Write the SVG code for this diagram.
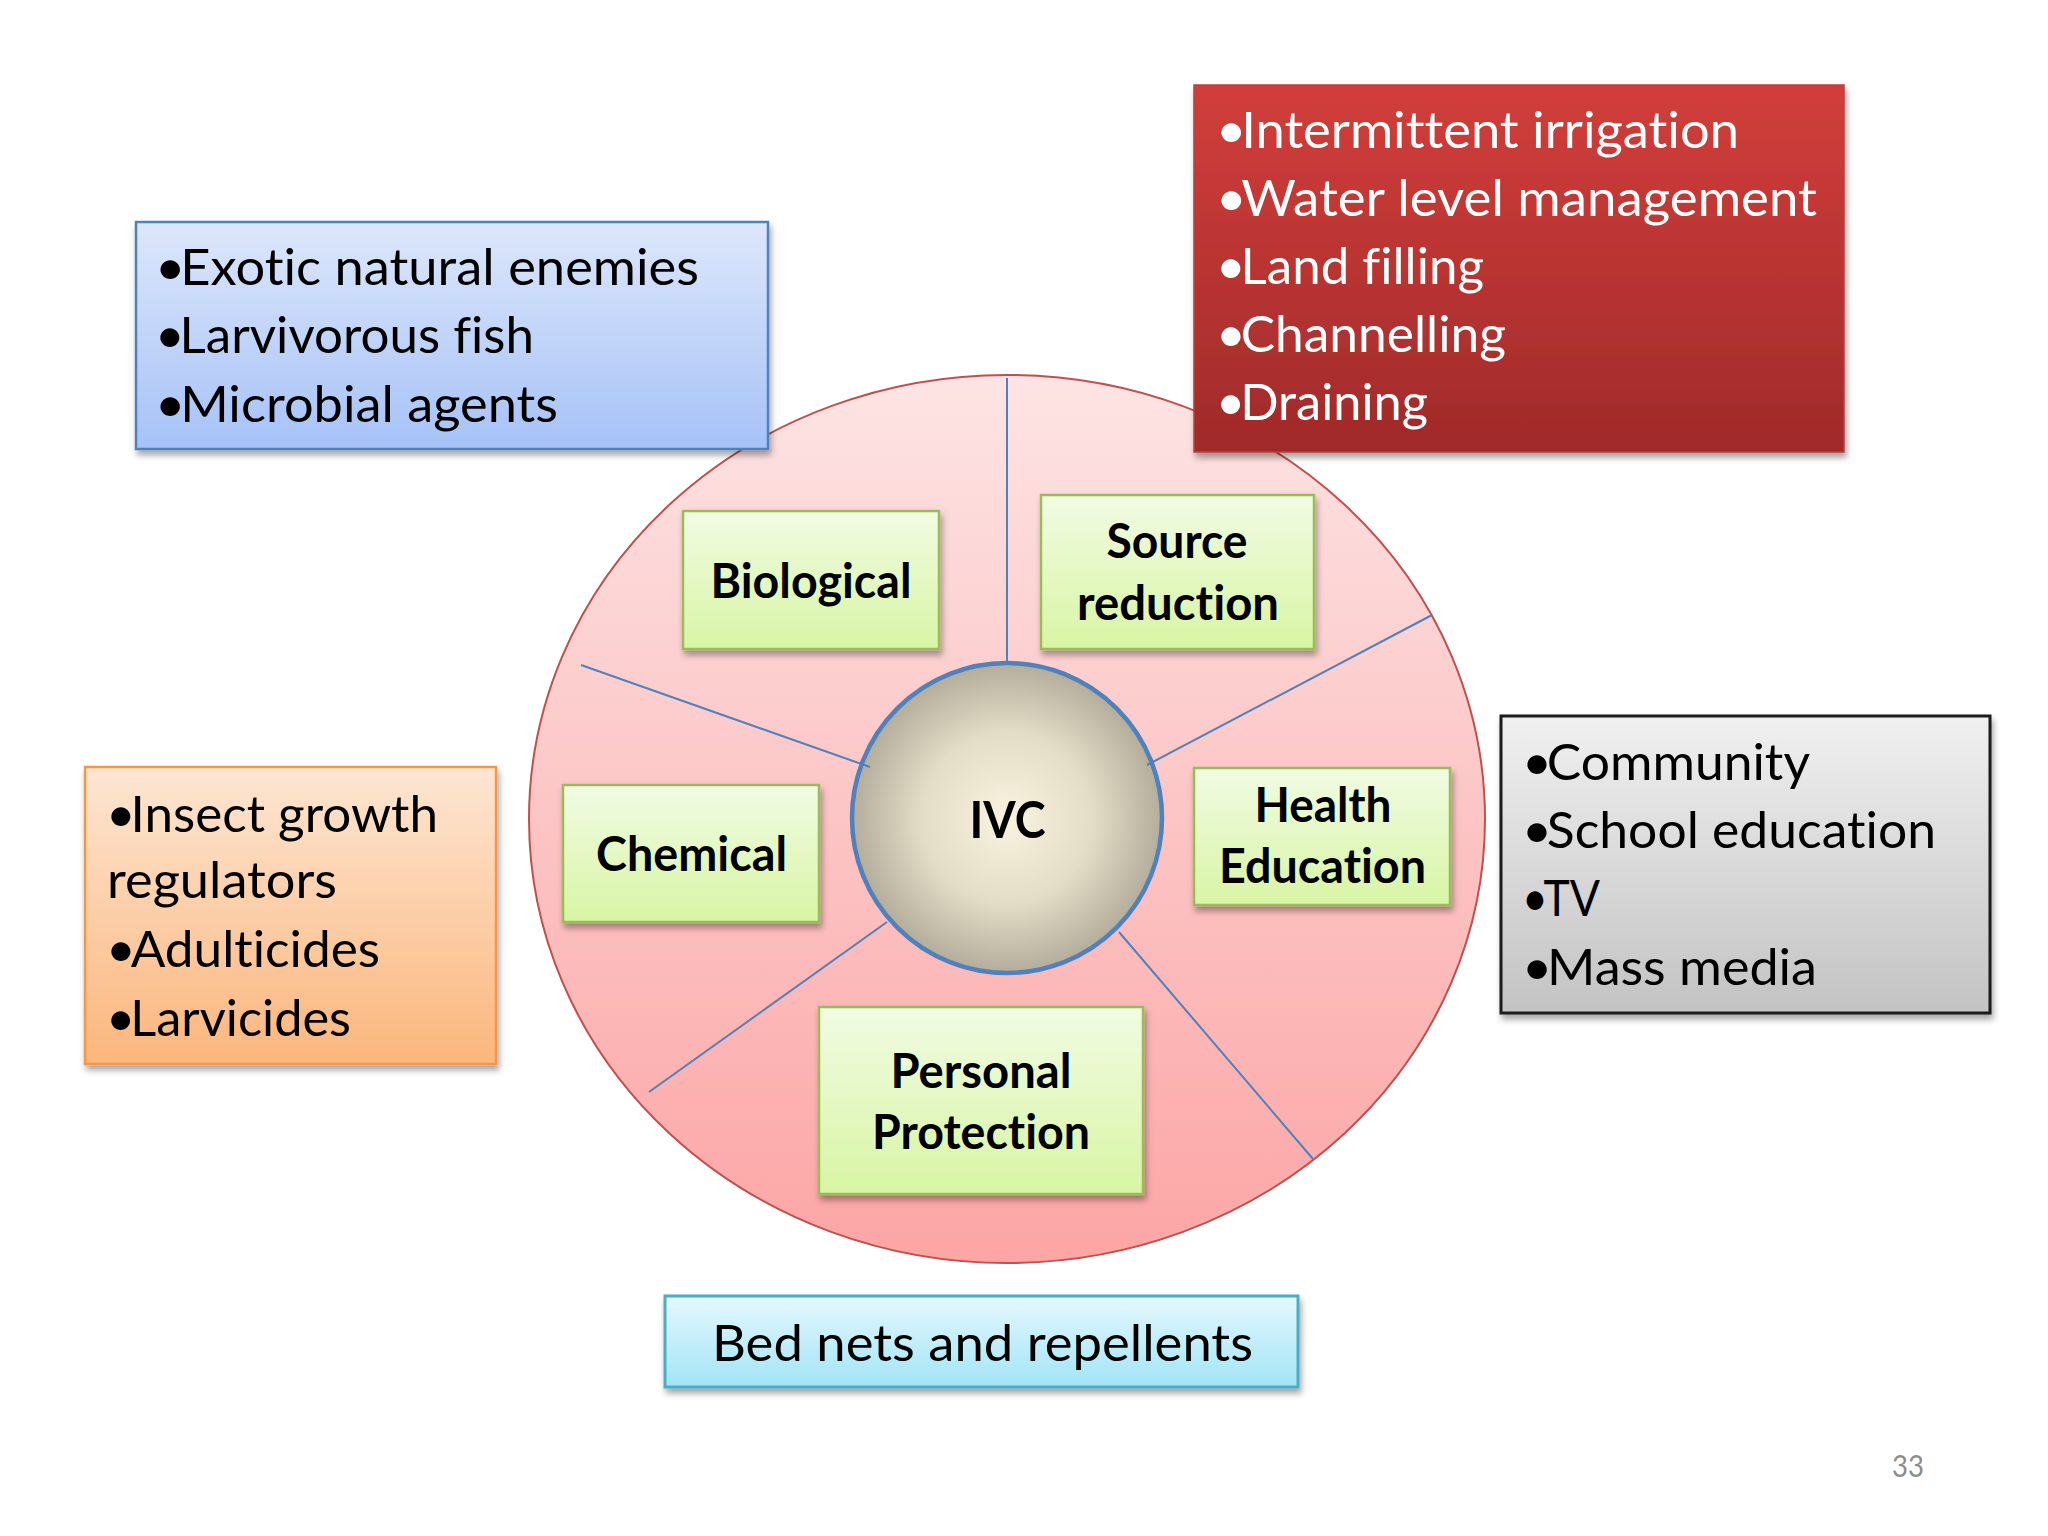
<svg xmlns="http://www.w3.org/2000/svg" width="2048" height="1536" viewBox="0 0 2048 1536">
<defs>
<linearGradient id="gBlue" x1="0" y1="0" x2="0" y2="1"><stop offset="0" stop-color="#dde7fb"/><stop offset="1" stop-color="#a6c2f7"/></linearGradient>
<linearGradient id="gRed" x1="0" y1="0" x2="0" y2="1"><stop offset="0" stop-color="#d23e3b"/><stop offset="1" stop-color="#a02a2a"/></linearGradient>
<linearGradient id="gOrange" x1="0" y1="0" x2="0" y2="1"><stop offset="0" stop-color="#fde6d3"/><stop offset="1" stop-color="#fbb67c"/></linearGradient>
<linearGradient id="gGray" x1="0" y1="0" x2="0" y2="1"><stop offset="0" stop-color="#f0f0f0"/><stop offset="1" stop-color="#c3c3c3"/></linearGradient>
<linearGradient id="gCyan" x1="0" y1="0" x2="0" y2="1"><stop offset="0" stop-color="#e5f8fd"/><stop offset="1" stop-color="#a2e4f7"/></linearGradient>
<linearGradient id="gGreen" x1="0" y1="0" x2="0" y2="1"><stop offset="0" stop-color="#f1fbe3"/><stop offset="1" stop-color="#d8f5a4"/></linearGradient>
<linearGradient id="gPink" x1="0" y1="0" x2="0" y2="1"><stop offset="0" stop-color="#fde4e4"/><stop offset="1" stop-color="#fca5a5"/></linearGradient>
<radialGradient id="gIvc" cx="0.5" cy="0.5" r="0.5"><stop offset="0" stop-color="#f9f4e0"/><stop offset="0.55" stop-color="#e3dcc6"/><stop offset="1" stop-color="#b3ad9b"/></radialGradient>
<filter id="sh" x="-10%" y="-10%" width="125%" height="130%"><feDropShadow dx="2" dy="5" stdDeviation="3" flood-color="#000" flood-opacity="0.35"/></filter>
</defs>
<style>
text{font-variant-ligatures:none;font-feature-settings:"liga" 0,"clig" 0,"dlig" 0}
.list{font-family:Lato,"Liberation Sans",sans-serif;font-size:50px;fill:#000}
.b{letter-spacing:-5px}
.white{fill:#fff}
.bold{font-family:Lato,"Liberation Sans",sans-serif;font-size:48px;font-weight:bold;fill:#000;text-anchor:middle}
.green{fill:url(#gGreen);stroke:#9bbb59;stroke-width:2.5;filter:url(#sh)}
.spoke{stroke:#4f81bd;stroke-width:2;fill:none}
</style>
<rect width="2048" height="1536" fill="#fff"/>

<g id="outer-circle">
<ellipse cx="1007" cy="819" rx="478" ry="444" fill="url(#gPink)" stroke="#c0504d" stroke-width="2"/>
</g>

<g id="ivc">
<circle cx="1007" cy="818" r="155" fill="url(#gIvc)" stroke="#4f81bd" stroke-width="4.5"/>
<text x="1007.5" y="838" class="bold" style="font-size:52px" textLength="76" lengthAdjust="spacingAndGlyphs">IVC</text>
</g>

<g id="connectors">
<line class="spoke" x1="1007" y1="378" x2="1007" y2="663"/>
<line class="spoke" x1="581" y1="665" x2="870" y2="767"/>
<line class="spoke" x1="1432" y1="615" x2="1147" y2="765"/>
<line class="spoke" x1="649" y1="1092" x2="887" y2="922"/>
<line class="spoke" x1="1119" y1="932" x2="1313" y2="1159"/>
</g>

<g id="biological">
<rect class="green" x="683" y="511" width="256" height="138"/>
<text class="bold" x="811" y="598" textLength="201" lengthAdjust="spacingAndGlyphs">Biological</text>
</g>

<g id="source-reduction">
<rect class="green" x="1041" y="495" width="273" height="154"/>
<text class="bold" x="1177" y="558" textLength="141" lengthAdjust="spacingAndGlyphs">Source</text>
<text class="bold" x="1178" y="620" textLength="202" lengthAdjust="spacingAndGlyphs">reduction</text>
</g>

<g id="chemical">
<rect class="green" x="563" y="785" width="256" height="137"/>
<text class="bold" x="691.5" y="871" textLength="191" lengthAdjust="spacingAndGlyphs">Chemical</text>
</g>

<g id="health-education">
<rect class="green" x="1194" y="768" width="256" height="137"/>
<text class="bold" x="1323" y="822" textLength="137" lengthAdjust="spacingAndGlyphs">Health</text>
<text class="bold" x="1322.5" y="883" textLength="207" lengthAdjust="spacingAndGlyphs">Education</text>
</g>

<g id="personal-protection">
<rect class="green" x="819" y="1007" width="324" height="187"/>
<text class="bold" x="981" y="1088" textLength="181" lengthAdjust="spacingAndGlyphs">Personal</text>
<text class="bold" x="981" y="1149" textLength="218" lengthAdjust="spacingAndGlyphs">Protection</text>
</g>

<g id="biological-list">
<rect x="136" y="222" width="632" height="227" fill="url(#gBlue)" stroke="#4f81bd" stroke-width="2.5" filter="url(#sh)"/>
<text class="list" x="155" y="285" textLength="544" lengthAdjust="spacingAndGlyphs"><tspan class="b">•</tspan>Exotic natural enemies</text>
<text class="list" x="155" y="353" textLength="379" lengthAdjust="spacingAndGlyphs"><tspan class="b">•</tspan>Larvivorous fish</text>
<text class="list" x="155" y="422" textLength="403" lengthAdjust="spacingAndGlyphs"><tspan class="b">•</tspan>Microbial agents</text>
</g>

<g id="source-list">
<rect x="1194" y="85" width="650" height="367" fill="url(#gRed)" stroke="#b8403d" stroke-width="1.5" filter="url(#sh)"/>
<text class="list white" x="1216" y="148" textLength="523" lengthAdjust="spacingAndGlyphs"><tspan class="b">•</tspan>Intermittent irrigation</text>
<text class="list white" x="1216" y="216" textLength="601" lengthAdjust="spacingAndGlyphs"><tspan class="b">•</tspan>Water level management</text>
<text class="list white" x="1216" y="284" textLength="268" lengthAdjust="spacingAndGlyphs"><tspan class="b">•</tspan>Land filling</text>
<text class="list white" x="1216" y="352" textLength="290" lengthAdjust="spacingAndGlyphs"><tspan class="b">•</tspan>Channelling</text>
<text class="list white" x="1216" y="420" textLength="212" lengthAdjust="spacingAndGlyphs"><tspan class="b">•</tspan>Draining</text>
</g>

<g id="chemical-list">
<rect x="85" y="767" width="411" height="297" fill="url(#gOrange)" stroke="#f79646" stroke-width="2.5" filter="url(#sh)"/>
<text class="list" x="106" y="832" textLength="332" lengthAdjust="spacingAndGlyphs"><tspan class="b">•</tspan>Insect growth</text>
<text class="list" x="107" y="898" textLength="230" lengthAdjust="spacingAndGlyphs">regulators</text>
<text class="list" x="106" y="967" textLength="274" lengthAdjust="spacingAndGlyphs"><tspan class="b">•</tspan>Adulticides</text>
<text class="list" x="106" y="1036" textLength="245" lengthAdjust="spacingAndGlyphs"><tspan class="b">•</tspan>Larvicides</text>
</g>

<g id="health-list">
<rect x="1501" y="716" width="489" height="297" fill="url(#gGray)" stroke="#1a1a1a" stroke-width="3" filter="url(#sh)"/>
<text class="list" x="1522" y="780" textLength="288" lengthAdjust="spacingAndGlyphs"><tspan class="b">•</tspan>Community</text>
<text class="list" x="1522" y="848" textLength="414" lengthAdjust="spacingAndGlyphs"><tspan class="b">•</tspan>School education</text>
<text class="list" x="1522" y="916" textLength="78" lengthAdjust="spacingAndGlyphs"><tspan class="b">•</tspan>TV</text>
<text class="list" x="1522" y="985" textLength="295" lengthAdjust="spacingAndGlyphs"><tspan class="b">•</tspan>Mass media</text>
</g>

<g id="personal-list">
<rect x="665" y="1296" width="633" height="91" fill="url(#gCyan)" stroke="#4bacc6" stroke-width="3" filter="url(#sh)"/>
<text class="list" x="712" y="1361" textLength="541" lengthAdjust="spacingAndGlyphs">Bed nets and repellents</text>
</g>

<g id="page-number">
<text x="1892" y="1477" font-family="Lato,'Liberation Sans',sans-serif" font-size="30" fill="#8c8c8c" textLength="32" lengthAdjust="spacingAndGlyphs">33</text>
</g>
</svg>
